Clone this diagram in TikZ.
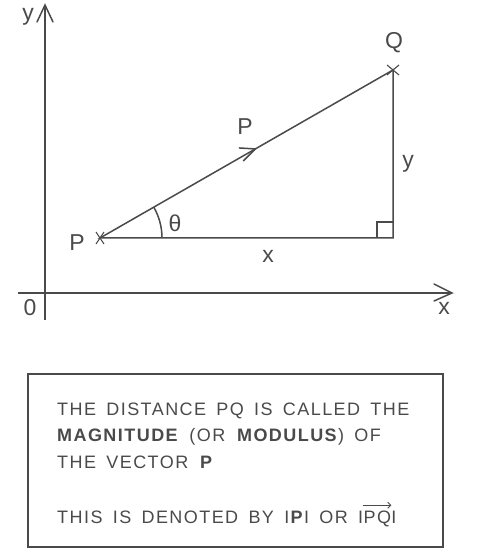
\documentclass[tikz,border=0pt]{standalone}
\usepackage{fontspec}
\usetikzlibrary{calc,arrows.meta}
\setmainfont{Liberation Sans}[LetterSpace=8,WordSpace=1.6]
\newfontfamily\lblfont{Liberation Sans}
\definecolor{ink}{HTML}{4A4A4A}
\begin{document}
\begin{tikzpicture}[x=1pt,y=1pt,
  ln/.style={draw=ink,line width=1.5pt},
  thin ln/.style={draw=ink,line width=1.1pt},
  lbl/.style={text=ink,font=\lblfont\fontsize{23}{23}\selectfont,inner sep=0pt},
  txt/.style={text=ink,font=\fontsize{18}{18}\selectfont,inner sep=0pt,anchor=base west}]
\useasboundingbox (0,0) rectangle (492,557);
% axes
\coordinate (ytop) at (45,552);
\coordinate (ybot) at (45,237);
\coordinate (xl) at (18,264);
\coordinate (xr) at (452,264);
\draw[ln] (ybot) -- (ytop);
\draw[ln] (xl) -- (xr);
\draw[ln,line cap=round] ($(ytop)+(-8,-17)$) -- (ytop) -- ($(ytop)+(8,-17)$);
\draw[ln,line cap=round] ($(xr)+(-18,9)$) -- (xr) -- ($(xr)+(-18,-8)$);
\node[lbl] (ylab) at (28,540) {y};
\node[lbl] (olab) at (30,249) {0};
\node[lbl] (xlab) at (444,249) {x};
% triangle
\coordinate (P) at (100,319);
\coordinate (Q) at (393,487);
\coordinate (R) at (393,319);
\draw[ln] (P) -- (Q) -- (R) -- cycle;
\draw[thin ln] ($(R)+(-16,0)$) |- ($(R)+(0,16)$);
% crosses
\draw[thin ln] ($(P)+(-4,-6)$) -- ($(P)+(4,6)$) ($(P)+(-4,6)$) -- ($(P)+(4,-6)$);
\draw[thin ln] ($(Q)+(-6,-5)$) -- ($(Q)+(6,5)$) ($(Q)+(-6,5)$) -- ($(Q)+(6,-5)$);
% mid arrow
\coordinate (M) at ($(P)!0.53!(Q)$);
\draw[ln,line cap=round] ($(M)+(-16,1)$) -- (M) -- ($(M)+(-12,-12)$);
% angle arc
\draw[ln] ($(P)+(62,0)$) arc[start angle=0,end angle=29.8,radius=62];
\node[lbl] (theta) at (175,334) {θ};
\node[lbl] (plab) at (77,314) {P};
\node[lbl] (qlab) at (394,514) {Q};
\node[lbl] (pvec) at (245,430) {P};
\node[lbl] (ylab2) at (408,393) {y};
\node[lbl] (xlab2) at (268,301) {x};
% box
\node[draw=ink,line width=1.5pt,minimum width=415pt,minimum height=173pt,anchor=south west,inner sep=0pt] (box) at (27,9) {};
\node[txt] (l1) at (57,141) {THE DISTANCE PQ IS CALLED THE};
\node[txt] (l2) at (57,115) {\textbf{MAGNITUDE} (OR \textbf{MODULUS}) OF};
\node[txt] (l3) at (57,88) {THE VECTOR \textbf{P}};
\node[txt] (l4) at (57,34) {THIS IS DENOTED BY I\textbf{P}I OR I};
\node[txt,anchor=base west] (pq) at (l4.base east) {PQ};
\node[txt,anchor=base west] (bar) at (pq.base east) {I};
\draw[ink,line width=0.8pt,-{Straight Barb[length=3pt]}] ([yshift=5pt]pq.north west) -- ([yshift=5pt]pq.north east);
\end{tikzpicture}
\end{document}
